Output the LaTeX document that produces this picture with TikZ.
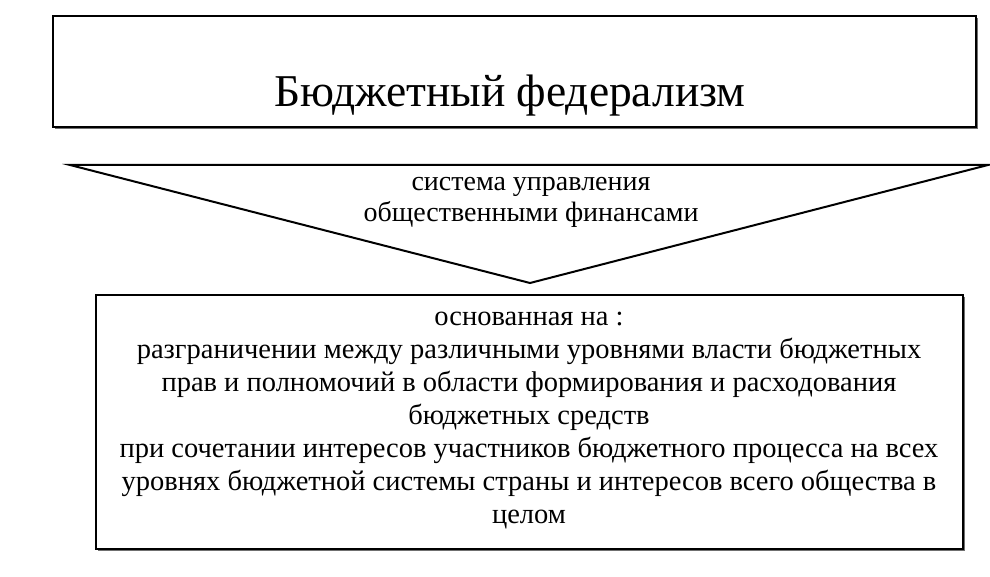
\documentclass[tikz,border=0pt]{standalone}
\usepackage{fontspec}
\setmainfont{Liberation Serif}
\usetikzlibrary{shadows}
\begin{document}
\begin{tikzpicture}[x=1pt,y=-1pt,
  frame/.style={draw=black,line width=2pt,fill=white,drop shadow={shadow xshift=2pt,shadow yshift=-2pt,opacity=0.8,fill=black!70}},
  txt/.style={align=center,font=\fontsize{28.5}{33}\selectfont}]
\useasboundingbox (0,0) rectangle (990,577);
\node[frame,minimum width=923pt,minimum height=111pt,anchor=north west] (top) at (52,15) {};
\node[font=\fontsize{45.5}{50}\selectfont] (title) at (510,96) {Бюджетный федерализм};
\draw[line width=2pt] (70,165) coordinate (tl) -- (988,165) coordinate (tr) -- (530,283) coordinate (tip) -- cycle;
\node[align=center,font=\fontsize{28}{31}\selectfont] (sys) at (531,202) {система управления\\общественными финансами};
\node[frame,minimum width=867pt,minimum height=254pt,anchor=north west] (bot) at (95,294) {};
\node[txt] (body) at (529,421) {основанная на :\\разграничении между различными уровнями власти бюджетных\\прав и полномочий в области формирования и расходования\\бюджетных средств\\при сочетании интересов участников бюджетного процесса на всех\\уровнях бюджетной системы страны и интересов всего общества в\\целом};
\end{tikzpicture}
\end{document}
